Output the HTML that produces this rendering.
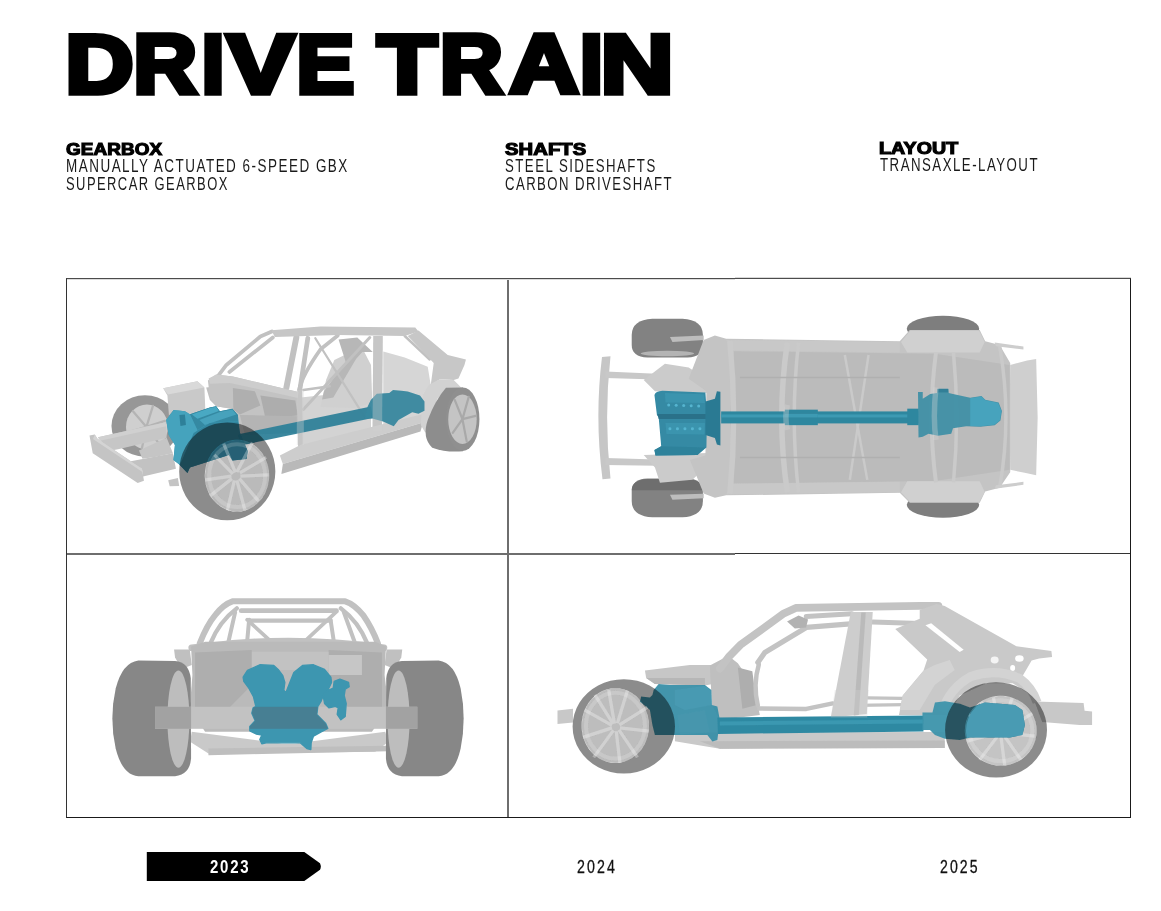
<!DOCTYPE html>
<html lang="en">
<head>
<meta charset="utf-8">
<title>Drive Train</title>
<style>
html,body{margin:0;padding:0;background:#fff;}
body{width:1161px;height:911px;position:relative;overflow:hidden;font-family:"Liberation Sans",sans-serif;color:#000;}
.abs{position:absolute;}
.h{position:absolute;font-weight:bold;font-size:16.3px;line-height:16px;white-space:nowrap;transform-origin:0 0;-webkit-text-stroke:1.15px #000;letter-spacing:0.1px;}
.t{position:absolute;font-weight:normal;font-size:18px;line-height:18px;white-space:nowrap;transform-origin:0 0;color:#1a1a1a;}
.yr{position:absolute;font-size:19px;line-height:18px;white-space:nowrap;transform-origin:0 0;color:#111;}
#grid{position:absolute;left:66px;top:278px;width:1065px;height:540px;box-sizing:border-box;border:1px solid #1a1a1a;border-top-color:#4c4c4c;border-left-color:#333;}
#vline{position:absolute;left:507px;top:279px;width:2px;height:538px;background:#6e6e6e;}
#hline{position:absolute;left:67px;top:553px;width:668px;height:2px;background:#6e6e6e;}
#hline2{position:absolute;left:735px;top:553px;width:395px;height:1px;background:#333;}
#tl1{position:absolute;left:67px;top:279px;width:668px;height:1px;background:#dcdcdc;}
#tl2{position:absolute;left:735px;top:277px;width:396px;height:1px;background:#d8d8d8;}
svg{position:absolute;left:0;top:0;overflow:visible;}
</style>
</head>
<body>

<!-- TITLE -->
<svg id="title" width="1161" height="120" viewBox="0 0 1161 120" aria-label="DRIVE TRAIN">
<g font-family="Liberation Sans, sans-serif" font-weight="bold" font-size="83" fill="#000" stroke="#000" stroke-width="5.4" stroke-linejoin="miter">
<text transform="translate(68.5,93.2) scale(1.14,1)" x="-2.9">D</text>
<text transform="translate(136.3,93.2) scale(1.065,1)" x="-2.9">R</text>
<text transform="translate(204.4,93.2) scale(1.0,1)" x="-2.9">I</text>
<text transform="translate(223,93.2) scale(1.2225,1)" x="2.98">V</text>
<text transform="translate(299.4,93.2) scale(1.05,1)" x="-2.9">E</text>
<text transform="translate(375.2,93.2) scale(1.18,1)" x="1.8">T</text>
<text transform="translate(442.7,93.2) scale(1.055,1)" x="-2.9">R</text>
<text transform="translate(507.5,93.2) scale(1.161,1)" x="1.52">A</text>
<text transform="translate(582.7,93.2) scale(1.012,1)" x="-2.9">I</text>
<text transform="translate(604,93.2) scale(1.22,1)" x="-2.9">N</text>
</g>
</svg>

<!-- SPEC COLUMNS -->
<div class="h" id="h1" style="left:66px;top:141px;transform:scaleX(1.1585);">GEARBOX</div>
<div class="t" id="t1a" style="left:65.6px;top:157px;transform:scaleX(0.748);letter-spacing:2px;">MANUALLY ACTUATED 6-SPEED GBX</div>
<div class="t" id="t1b" style="left:65.7px;top:175px;transform:scaleX(0.72);letter-spacing:2px;">SUPERCAR GEARBOX</div>

<div class="h" id="h2" style="left:504.7px;top:141px;transform:scaleX(1.237);">SHAFTS</div>
<div class="t" id="t2a" style="left:504.5px;top:157px;transform:scaleX(0.735);letter-spacing:2px;">STEEL SIDESHAFTS</div>
<div class="t" id="t2b" style="left:504.8px;top:175px;transform:scaleX(0.73);letter-spacing:2px;">CARBON DRIVESHAFT</div>

<div class="h" id="h3" style="left:879.4px;top:140px;transform:scaleX(1.2);">LAYOUT</div>
<div class="t" id="t3a" style="left:880px;top:156px;transform:scaleX(0.737);letter-spacing:2px;">TRANSAXLE-LAYOUT</div>

<!-- GRID -->
<div id="grid"></div>
<div id="vline"></div>
<div id="hline"></div>
<div id="hline2"></div>
<div id="tl1"></div>
<div id="tl2"></div>

<!-- CARS -->
<svg id="cars" width="1161" height="911" viewBox="0 0 1161 911">
<defs><filter id="soft" x="-5%" y="-5%" width="110%" height="110%"><feGaussianBlur stdDeviation="2.8"/></filter><filter id="soft3" x="-5%" y="-5%" width="110%" height="110%"><feGaussianBlur stdDeviation="2.1"/></filter></defs>
<!--CAR1-->
<g id="car1" transform="translate(80,315) scale(0.24981)" filter="url(#soft)">
<!-- far front wheel -->
<ellipse cx="260" cy="444" rx="134" ry="123" fill="#979797"/>
<ellipse cx="268" cy="448" rx="84" ry="90" fill="#cfcfcf"/>
<g stroke="#b4b4b4" stroke-width="9" stroke-linecap="round">
<path d="M266 448 L212 385 M266 448 L292 364 M266 448 L192 470 M266 448 L340 424 M266 448 L248 532 M266 448 L320 520"/>
</g>
<!-- front frame -->
<path d="M72 489 L343 429 L347 491 L157 536 L115 544 Z" fill="#c6c6c6"/>
<path d="M72 489 L343 429 L344 445 L80 503 Z" fill="#d0d0d0"/>
<path d="M236 542 L347 491 L372 553 L300 568 L250 575 Z" fill="#c5c5c5"/>
<path d="M198 586 L372 553 L384 615 L252 646 L248 615 Z" fill="#c2c2c2"/>
<path d="M38 482 L59 478 L70 495 L248 615 L256 664 L231 673 L51 553 Z" fill="#c4c4c4"/>
<path d="M59 478 L70 495 L248 615 L250 628 L52 496 Z" fill="#d4d4d4"/>
<path d="M353 662 L392 652 L397 685 L359 686 Z" fill="#c4c4c4"/>
<!-- radiator box -->
<path d="M333 293 L470 265 L498 290 L502 388 L440 396 L376 380 L356 402 L350 322 Z" fill="#c9c9c9"/>
<path d="M333 293 L470 265 L498 290 L352 318 Z" fill="#d9d9d9"/>
<!-- strut / inner fender area -->
<path d="M505 290 L600 280 L612 376 L545 365 L520 340 Z" fill="#c0c0c0"/>
<!-- firewall / dash -->
<path d="M512 262 L545 238 L612 246 L874 308 L880 420 L905 470 L640 480 L612 376 L545 365 L520 330 Z" fill="#c3c3c3"/>
<path d="M612 292 L700 305 L722 362 L640 398 L614 378 Z" fill="#afafaf"/>
<path d="M722 322 L862 342 L872 402 L742 412 Z" fill="#adadad"/>
<path d="M640 400 L880 405 L880 470 L660 480 Z" fill="#b4b4b4"/>
<!-- floor seen through door -->
<path d="M884 330 L1165 300 L1165 470 L884 520 Z" fill="#d3d3d3"/>
<path d="M1214 146 L1300 170 L1392 207 L1404 280 L1373 315 L1373 414 L1214 461 Z" fill="#d6d6d6"/>
<!-- seat -->
<path d="M1018 180 L1080 150 L1136 144 L1165 200 L1170 351 L1100 372 L963 368 L985 260 Z" fill="#d0d0d0"/>
<path d="M1035 98 L1110 90 L1172 148 L1130 148 L1105 176 L1014 330 L969 338 L977 305 L1064 189 Z" fill="#b7b7b7"/>
<!-- cage tubes -->
<g fill="none" stroke="#c1c1c1" stroke-width="15" stroke-linecap="round" stroke-linejoin="round">
<path d="M556 240 L586 200 L722 86 L768 66"/>
<path d="M598 228 L772 90"/>
<path d="M866 90 L826 292" stroke-width="24"/>
<path d="M912 93 L880 300 L882 520" stroke-width="19"/>
<path d="M877 300 Q890 240 963 137 L1032 82"/>
<path d="M942 93 L1142 413" stroke-width="9"/>
<path d="M1160 90 L894 378" stroke-width="12"/>
<path d="M894 300 L1000 285" stroke-width="10"/>
<path d="M1193 84 L1190 466" stroke-width="38" stroke-linecap="butt"/>
<path d="M1300 84 L1400 178" stroke-width="10"/>
</g>
<path d="M515 254 L545 238 L612 246 L874 308 L872 332 L600 272 L520 275 Z" fill="#cdcdcd"/>
<!-- roof band -->
<path d="M766 61 L963 46 L1342 50 L1355 66 L1300 84 L1032 80 L780 88 Z" fill="#c6c6c6"/>
<!-- rear pillar -->
<path d="M1312 84 L1355 62 L1472 160 L1545 178 L1539 200 L1515 254 L1496 260 L1441 257 L1404 280 L1416 192 Z" fill="#c7c7c7"/>
<!-- side / sill -->
<path d="M882 520 L1373 396 L1373 430 L812 596 L800 562 Z" fill="#cdcdcd"/>
<path d="M812 596 L1373 430 L1363 466 L806 636 Z" fill="#b9b9b9"/>
<!-- rear fender -->
<path d="M1373 315 L1398 278 L1441 257 L1496 260 L1527 291 L1470 296 L1430 336 L1412 400 L1418 440 L1382 470 L1364 440 Z" fill="#d2d2d2"/>
<!-- rear wheel -->
<path d="M1465 291 Q1422 340 1392 420 Q1368 490 1410 531 Q1470 552 1533 545 L1533 290 Z" fill="#8d8d8d"/>
<ellipse cx="1532" cy="417" rx="67" ry="127" fill="#8f8f8f"/>
<ellipse cx="1531" cy="417" rx="57" ry="99" fill="#c4c4c4"/>
<g stroke="#a9a9a9" stroke-width="9" stroke-linecap="round">
<path d="M1531 417 L1500 340 M1531 417 L1556 328 M1531 417 L1584 404 M1531 417 L1548 506 M1531 417 L1492 472"/>
</g>
<!-- engine -->
<path d="M345 420 L375 380 L420 385 L440 397 L520 370 L545 365 L560 385 L610 375 L632 400 L640 470 L652 500 L672 545 L666 576 L610 582 L596 560 L440 610 L430 632 L395 596 L374 580 L380 520 L355 480 Z" fill="#3b96b0"/>
<path d="M440 397 L520 370 L545 365 L560 385 L610 375 L632 400 L632 425 L520 430 L470 460 Z" fill="#3489a2"/>
<path d="M345 420 L375 380 L420 385 L440 397 L470 460 L400 600 L374 580 L380 520 L355 480 Z" fill="#45a3bd"/>
<path d="M398 400 L420 398 L424 440 L402 444 Z" fill="#2f8099"/>
<path d="M448 398 L520 372 L545 367 L556 384 L470 415 Z" fill="#4aa9c3"/>
<path d="M478 420 L560 388 L610 378 L626 398 L500 440 Z" fill="#46a2bc"/>
<path d="M455 472 L520 432 L632 427 L640 470 L652 500 L672 545 L666 576 L610 582 L596 560 L440 610 L430 632 L400 600 Z" fill="#33869f"/>
<!-- driveshaft -->
<path d="M630 478 L1165 366 L1172 412 L645 522 Z" fill="#2f8199" fill-opacity="0.95"/>
<!-- gearbox -->
<path d="M1164 340 L1188 315 L1238 312 L1253 300 L1287 303 L1312 306 L1361 322 L1379 346 L1379 383 L1355 395 L1330 389 L1275 420 L1256 445 L1213 426 L1170 414 L1139 414 L1152 365 Z" fill="#37879e" fill-opacity="0.95"/>
<!-- overlays in front of drivetrain -->
<path d="M856 90 L875 90 L912 93 L882 520 L850 520 L818 290 Z" fill="#fff" fill-opacity="0.0"/>
<path d="M868 300 L896 300 L896 520 L868 520 Z" fill="#d0d0d0" fill-opacity="0.35"/>
<path d="M1174 84 L1212 84 L1209 466 L1171 466 Z" fill="#d0d0d0" fill-opacity="0.35"/>
<!-- near front wheel -->
<path d="M589 430 a192.500 196 0 1 0 1 0 Z M629 499 a129 144 0 1 1 -1 0 Z" fill="#000" fill-opacity="0.45" fill-rule="evenodd"/>
<ellipse cx="629" cy="643" rx="129" ry="144" fill="#000" fill-opacity="0.27"/>
<ellipse cx="629" cy="643" rx="112" ry="126" fill="none" stroke="#fff" stroke-opacity="0.16" stroke-width="16"/>
<g stroke="#fff" stroke-opacity="0.3" stroke-width="13" stroke-linecap="butt">
<path d="M612 636 L538 560 M622 630 L575 515 M628 628 L690 510 M640 632 L745 570 M642 645 L755 640 M638 655 L715 745 M628 662 L660 780 M618 662 L590 782 M608 655 L520 725 M606 645 L503 660"/>
</g>
</g>
<!--/CAR1-->
<!--CAR2-->
<g id="car2" transform="translate(590,305) scale(0.24981)" filter="url(#soft)">
<!-- front wheels -->
<path d="M250 55 H370 Q452 60 452 120 V160 Q452 208 390 210 H230 Q167 208 167 160 V120 Q167 60 250 55 Z" fill="#828282"/>
<ellipse cx="310" cy="194" rx="107" ry="11" fill="#b4b4b4"/>
<path d="M230 695 H390 Q452 698 452 745 V785 Q452 845 370 850 H250 Q167 845 167 785 V745 Q167 698 230 695 Z" fill="#828282"/>
<path d="M230 697 H390 Q450 700 452 742 H167 Q168 700 230 697 Z" fill="#6e6e6e"/>
<!-- rear wheels -->
<ellipse cx="1413" cy="95" rx="145" ry="52" fill="#7e7e7e"/>
<ellipse cx="1413" cy="800" rx="145" ry="52" fill="#7e7e7e"/>
<!-- bumper beam and rails -->
<path d="M48 208 L82 205 Q55 450 82 695 L50 698 Q18 450 48 208 Z" fill="#c6c6c6"/>
<path d="M62 266 L335 278 L335 300 L62 292 Z" fill="#c8c8c8"/>
<path d="M62 612 L335 620 L335 644 L62 640 Z" fill="#c8c8c8"/>
<path d="M320 128 L455 122 L455 140 L330 148 Z" fill="#bdbdbd"/>
<path d="M320 760 L455 756 L455 774 L330 780 Z" fill="#bdbdbd"/>
<!-- front suspension clutter -->
<path d="M215 300 L300 235 L395 250 L472 300 L472 352 L260 345 Z" fill="#cbcbcb"/>
<path d="M215 600 L472 592 L472 640 L410 700 L280 712 L260 650 Z" fill="#cbcbcb"/>
<!-- body -->
<path d="M455 140 L500 122 L545 135 L1240 145 L1280 100 L1560 100 L1582 145 L1640 160 L1682 232 L1690 450 L1682 670 L1640 732 L1582 747 L1560 792 L1280 792 L1240 752 L545 762 L500 772 L455 755 L400 620 L462 602 L466 345 L395 295 Z" fill="#c4c4c4"/>
<!-- inner cabin slightly darker -->
<path d="M575 185 L1380 195 L1680 240 L1680 660 L1380 705 L575 715 L560 450 Z" fill="#bbbbbb"/>
<!-- lighter rim bands (sills/roof rails) -->
<path d="M545 140 L1240 148 L1240 190 L575 182 Z" fill="#c8c8c8"/>
<path d="M545 758 L1240 750 L1240 708 L575 716 Z" fill="#c8c8c8"/>
<!-- rear fenders highlight -->
<path d="M1245 148 L1282 103 L1558 103 L1580 148 L1560 190 L1270 190 Z" fill="#d0d0d0"/>
<path d="M1245 750 L1282 790 L1558 790 L1580 748 L1560 706 L1270 706 Z" fill="#d0d0d0"/>
<!-- cross members -->
<g fill="none" stroke="#cacaca" stroke-width="22">
<path d="M560 145 Q590 450 560 755"/>
<path d="M790 150 Q745 450 790 750"/>
<path d="M835 150 Q800 450 835 750" stroke-width="14"/>
<path d="M1115 200 L1040 700" stroke-width="10"/>
<path d="M1020 200 L1110 700" stroke-width="10"/>
<path d="M1385 190 Q1350 450 1385 710" stroke-width="16"/>
<path d="M1455 190 Q1480 450 1455 710" stroke-width="14"/>
<path d="M1640 165 Q1690 450 1640 730" stroke-width="14"/>
</g>
<g fill="none" stroke="#b0b0b0" stroke-width="6">
<path d="M600 290 L1240 290 M600 610 L1240 610"/>
</g>
<!-- rear wing -->
<path d="M1682 240 L1750 222 L1786 216 L1792 450 L1786 682 L1740 672 L1682 660 Z" fill="#cfcfcf"/>
<path d="M1620 150 L1735 166 L1735 178 L1625 165 Z" fill="#cdcdcd"/>
<path d="M1620 736 L1735 720 L1735 708 L1625 722 Z" fill="#cdcdcd"/>
<!-- engine -->
<path d="M258 360 Q262 345 290 343 L462 350 L468 440 L468 450 L466 570 L430 600 L262 602 L258 580 L285 565 L275 450 L268 440 Z" fill="#348aa4"/>
<path d="M270 436 L466 436 L466 456 L275 456 Z" fill="#2a7189"/>
<path d="M300 352 L455 357 L460 392 L302 390 Z" fill="#3b94ae"/>
<path d="M302 472 L460 472 L458 518 L306 516 Z" fill="#3b94ae"/>
<g fill="#55b4cf"><circle cx="315" cy="400" r="6"/><circle cx="345" cy="401" r="6"/><circle cx="375" cy="402" r="6"/><circle cx="405" cy="403" r="6"/><circle cx="435" cy="404" r="6"/><circle cx="320" cy="495" r="6"/><circle cx="350" cy="495" r="6"/><circle cx="380" cy="495" r="6"/><circle cx="410" cy="495" r="6"/><circle cx="440" cy="495" r="6"/></g>
<path d="M258 580 L285 565 L462 570 L430 600 L262 602 Z" fill="#2f829b"/>
<!-- bellhousing -->
<path d="M462 386 L500 375 L508 345 L522 347 L522 562 L508 558 L500 532 L462 520 Z" fill="#2c7a93"/>
<!-- driveshaft -->
<rect x="525" y="426" width="790" height="48" fill="#2f879f"/>
<rect x="525" y="438" width="790" height="12" fill="#3c9ab3"/>
<rect x="780" y="419" width="132" height="62" fill="#2f879f"/>
<rect x="780" y="436" width="132" height="14" fill="#3c9ab3"/>
<rect x="1270" y="415" width="46" height="66" fill="#2f879f"/>
<!-- gearbox -->
<path d="M1313 348 L1332 348 L1332 375 L1362 356 L1389 352 L1391 335 L1434 335 L1436 352 L1453 356 L1522 371 L1567 364 L1582 379 L1636 390 L1649 424 L1643 462 L1620 481 L1563 487 L1506 485 L1453 493 L1446 515 L1393 523 L1355 515 L1332 527 L1315 530 Z" fill="#3d8fa6" fill-opacity="0.93"/>
<path d="M1522 373 L1567 366 L1582 381 L1634 392 L1647 424 L1641 461 L1619 479 L1563 485 L1522 484 Z" fill="#46a5c0" fill-opacity="0.9"/>
<path d="M1391 336 L1434 336 L1434 350 L1391 350 Z" fill="#337f97"/>
<!-- cabin members over shaft (transparent) -->
<g fill="none" stroke="#d8d8d8" stroke-opacity="0.35" stroke-width="22">
<path d="M790 400 Q778 450 790 500"/>
<path d="M1385 330 Q1372 450 1385 540"/>
</g>
</g>
<!--/CAR2-->
<!--CAR3-->
<g id="car3" transform="translate(95,575) scale(0.33362)" filter="url(#soft3)">
<defs><clipPath id="c3eng"><path d="M444 306 L457 286 L494 269 L536 271 L549 283 L563 302 L569 322 L566 345 L572 353 L587 315 L596 292 L622 271 L655 269 L688 283 L707 306 L709 322 L698 345 L684 362 L678 378 L668 394 L665 418 L691 444 L698 460 L678 470 L655 483 L648 503 L647 523 L635 520 L615 503 L513 503 L500 506 L494 493 L500 480 L484 477 L464 467 L464 454 L480 437 L470 414 L474 398 L482 394 L475 365 L461 339 L446 319 Z"/></clipPath></defs>
<!-- cage -->
<g fill="none" stroke="#c1c1c1" stroke-width="18" stroke-linejoin="round" stroke-linecap="round">
<path d="M314 205 Q335 150 362 118 Q386 88 412 79 L750 79 Q778 88 805 122 Q830 158 848 205"/>
<path d="M346 205 Q372 140 425 100 M816 205 Q790 140 737 100" stroke-width="13"/>
<path d="M438 107 L724 107" stroke-width="14"/>
<path d="M462 137 L706 137" stroke-width="13"/>
<path d="M456 134 L605 270 M724 110 L545 277" stroke-width="11"/>
<path d="M420 112 L400 200 M462 134 L456 200 M706 134 L716 200 M746 112 L778 200" stroke-width="12"/>
<path d="M290 218 Q581 178 866 218" stroke-width="20"/>
</g>
<!-- upper body -->
<path d="M288 214 L330 200 L840 200 L872 214 L868 300 L880 400 L830 470 L330 470 L284 400 L292 300 Z" fill="#bababa"/>
<path d="M300 232 L470 225 L470 330 L400 400 L300 400 Z" fill="#aeaeae"/>
<path d="M860 232 L700 225 L700 300 L760 400 L860 400 Z" fill="#aeaeae"/>
<path d="M470 230 L700 230 L700 285 L470 285 Z" fill="#c2c2c2"/>
<path d="M700 240 L800 240 L800 300 L700 300 Z" fill="#c6c6c6"/>
<!-- mirrors/brackets -->
<path d="M237 223 L284 223 L290 270 L260 282 L240 247 Z" fill="#c0c0c0"/>
<path d="M921 223 L874 223 L868 270 L898 282 L918 247 Z" fill="#c0c0c0"/>
<!-- lower suspension -->
<path d="M290 470 L560 505 L600 505 L870 470 L880 500 L840 530 L340 535 L285 500 Z" fill="#c9c9c9"/>
<path d="M340 520 L880 512 L880 528 L340 540 Z" fill="#bebebe"/>
<!-- tyres -->
<path d="M130 256 L240 258 Q282 262 287 310 L288 550 Q284 598 240 603 L130 603 Q82 600 62 520 Q42 430 62 340 Q82 262 130 256 Z" fill="#878787"/>
<ellipse cx="250" cy="432" rx="33" ry="146" fill="#bdbdbd"/>
<path d="M1030 256 L920 258 Q878 262 873 310 L872 550 Q876 598 920 603 L1030 603 Q1078 600 1096 520 Q1114 430 1096 340 Q1078 262 1030 256 Z" fill="#878787"/>
<ellipse cx="910" cy="432" rx="33" ry="146" fill="#bdbdbd"/>
<!-- beam -->
<rect x="180" y="395" width="786" height="66" fill="#c2c2c2"/>
<rect x="180" y="395" width="108" height="66" fill="#a2a2a2"/>
<rect x="872" y="395" width="94" height="66" fill="#a2a2a2"/>
<!-- engine -->
<path d="M444 306 L457 286 L494 269 L536 271 L549 283 L563 302 L569 322 L566 345 L572 353 L587 315 L596 292 L622 271 L655 269 L688 283 L707 306 L709 322 L698 345 L684 362 L678 378 L668 394 L665 418 L691 444 L698 460 L678 470 L655 483 L648 503 L647 523 L635 520 L615 503 L513 503 L500 506 L494 493 L500 480 L484 477 L464 467 L464 454 L480 437 L470 414 L474 398 L482 394 L475 365 L461 339 L446 319 Z" fill="#3d96b0" stroke="#3d96b0" stroke-width="4" stroke-linejoin="round"/>
<rect x="180" y="395" width="786" height="66" fill="#477f93" clip-path="url(#c3eng)"/>
<path d="M684 362 L694 348 L714 339 L717 319 L734 312 L760 322 L762 335 L750 342 L747 362 L753 385 L750 424 L737 434 L726 418 L729 398 L721 394 L701 398 L688 385 Z" fill="#3d96b0" stroke="#3d96b0" stroke-width="4" stroke-linejoin="round"/>
</g>
<!--/CAR3-->
<!--CAR4-->
<g id="car4" transform="translate(545,585) scale(0.24981)" filter="url(#soft)">
<!-- front bumper stub -->
<path d="M50 502 L112 495 L112 550 L50 556 Z" fill="#c8c8c8"/>
<!-- hood / cowl -->
<path d="M400 342 L580 320 L680 320 L702 345 L692 392 L640 402 L440 396 L405 372 Z" fill="#c6c6c6"/>
<path d="M405 372 L640 372 L640 402 L440 396 Z" fill="#b6b6b6"/>
<!-- firewall / hinge pillar -->
<path d="M660 322 L734 283 L772 313 L803 358 L830 400 L852 480 L860 520 L700 540 L668 480 L665 420 Z" fill="#bfbfbf"/>
<path d="M772 330 L830 345 L848 480 L790 495 Z" fill="#aeaeae"/>
<!-- floor / sill -->
<path d="M520 590 L1600 588 L1600 652 L700 655 L520 625 Z" fill="#c9c9c9"/>
<path d="M620 625 L1600 622 L1600 652 L700 655 Z" fill="#bcbcbc"/>
<!-- cage tubes -->
<g fill="none" stroke="#c3c3c3" stroke-width="25" stroke-linecap="round" stroke-linejoin="round">
<path d="M700 335 L738 285 L782 240 L956 114 L1004 92 L1502 84 L1575 84" stroke-width="31"/>
<path d="M852 310 L880 270 L1046 170 L1222 156" stroke-width="21"/>
<path d="M1046 126 L1228 115 M1312 148 L1500 154" stroke-width="20"/>
<path d="M852 482 Q832 400 856 318" stroke-width="18"/>
<path d="M858 494 L1046 496 L1152 474" stroke-width="18"/>
<path d="M1290 452 L1500 455 M1252 482 L1500 478" stroke-width="13"/>
</g>
<path d="M969 146 L1015 122 L1053 138 L1045 170 L1000 174 Z" fill="#b2b2b2"/>
<!-- B pillar -->
<path d="M1224 108 L1312 108 L1288 516 L1144 530 Z" fill="#cdcdcd"/>
<path d="M1266 110 L1284 110 L1256 520 L1236 522 Z" fill="#bababa"/>
<!-- rear quarter -->
<path d="M1402 176 L1500 135 L1500 100 L1568 76 L1600 84 L1887 245 L2027 264 L2030 288 L1978 294 L1948 302 L1906 374 L1948 419 L1971 465 L1990 520 L1948 442 L1872 393 L1766 393 L1660 442 L1615 520 L1417 520 L1432 442 L1515 343 L1530 298 Z" fill="#c9c9c9"/>
<path d="M1523 161 L1546 153 L1676 259 L1660 268 Z" fill="#fff"/>
<path d="M1432 442 L1515 343 L1560 320 L1620 300 L1640 340 L1560 400 L1500 500 L1420 500 Z" fill="#d3d3d3"/>
<ellipse cx="1899" cy="294" rx="17" ry="13" fill="#fff"/>
<ellipse cx="1872" cy="332" rx="10" ry="12" fill="#fff"/>
<ellipse cx="1800" cy="300" rx="16" ry="14" fill="#f4f4f4"/>
<!-- rear frame extension -->
<path d="M1960 466 L2156 472 L2160 503 L2190 506 L2190 560 L2140 560 L1990 548 Z" fill="#c8c8c8"/>
<path d="M1590 505 Q1622 410 1705 366 Q1805 332 1900 374 Q1950 410 1970 470" fill="none" stroke="#d3d3d3" stroke-width="36"/>
<!-- teal drivetrain -->
<path d="M435 420 L455 396 L500 400 L640 400 L666 420 L668 480 L690 486 L700 540 L690 620 L670 626 L650 600 L440 600 L430 560 L420 500 L380 466 L385 446 L420 450 L430 440 Z" fill="#3a8fa8" fill-opacity="0.95"/>
<path d="M520 420 L640 404 L664 422 L666 480 L560 500 L520 480 Z" fill="#4a9db5" fill-opacity="0.7"/>
<path d="M530 520 L640 500 L660 590 L540 598 Z" fill="#4797af" fill-opacity="0.6"/>
<path d="M690 530 L1515 522 L1515 586 L692 596 Z" fill="#2f89a2"/>
<path d="M700 546 L1515 538 L1515 554 L700 562 Z" fill="#3a98b1"/>
<path d="M1561 470 L1601 465 L1661 475 L1701 490 L1761 470 L1881 480 L1911 500 L1921 560 L1911 600 L1861 610 L1701 610 L1661 620 L1601 615 L1561 600 L1541 580 L1511 580 L1511 510 L1551 510 Z" fill="#3d93ab" fill-opacity="0.95"/>
<!-- overlays in front of drivetrain -->
<path d="M1144 530 L1160 420 L1296 420 L1290 530 Z" fill="#d0d0d0" fill-opacity="0.3"/>
<!-- front wheel -->
<path d="M315 377 a205 189 0 1 0 1 0 Z M282 413 a135 150 0 1 1 -1 0 Z" fill="#000" fill-opacity="0.45" fill-rule="evenodd"/>
<ellipse cx="282" cy="563" rx="135" ry="150" fill="#000" fill-opacity="0.26"/>
<ellipse cx="282" cy="563" rx="118" ry="132" fill="none" stroke="#fff" stroke-opacity="0.16" stroke-width="16"/>
<g stroke="#fff" stroke-opacity="0.3" stroke-width="13">
<path d="M278 555 L255 420 M290 553 L330 422 M298 560 L410 490 M300 572 L415 585 M296 580 L370 690 M285 585 L300 712 M274 582 L195 690 M268 572 L152 610 M268 562 L158 500 M272 555 L200 440"/>
</g>
<!-- rear wheel -->
<path d="M1805 389 a204 191 0 1 0 1 0 Z M1825 443 a144 140 0 1 1 -1 0 Z" fill="#000" fill-opacity="0.45" fill-rule="evenodd"/>
<ellipse cx="1825" cy="583" rx="144" ry="140" fill="#000" fill-opacity="0.23"/>
<ellipse cx="1825" cy="583" rx="126" ry="122" fill="none" stroke="#fff" stroke-opacity="0.16" stroke-width="16"/>
<g stroke="#fff" stroke-opacity="0.3" stroke-width="13">
<path d="M1818 575 L1795 450 M1830 573 L1870 452 M1838 580 L1950 515 M1840 592 L1960 605 M1836 600 L1905 700 M1825 605 L1840 720 M1814 602 L1740 700 M1808 592 L1690 625 M1808 582 L1698 520 M1812 575 L1745 468"/>
</g>
<!-- fender arch over rear wheel top -->
<clipPath id="c4rim"><ellipse cx="1825" cy="583" rx="140" ry="136"/></clipPath>
<path d="M1561 470 L1601 465 L1661 475 L1701 490 L1761 470 L1881 480 L1911 500 L1921 560 L1911 600 L1861 610 L1701 610 L1661 620 L1601 615 L1561 600 L1541 580 L1511 580 L1511 510 L1551 510 Z" fill="#4a9bb3" clip-path="url(#c4rim)"/>
</g>
<!--/CAR4-->
</svg>

<!-- TIMELINE -->
<svg id="arrow" width="1161" height="911" viewBox="0 0 1161 911">
<path d="M146.8 852 H304.3 L320 863.2 Q321.6 866.5 320 869.8 L304.3 881 H146.8 Z" fill="#000"/>
</svg>
<div class="yr" id="y1" style="left:210px;top:858px;color:#fff;font-weight:bold;transform:scaleX(0.789);letter-spacing:2.2px;">2023</div>
<div class="yr" id="y2" style="left:577px;top:858px;transform:scaleX(0.747);letter-spacing:2.8px;-webkit-text-stroke:0.3px #111;">2024</div>
<div class="yr" id="y3" style="left:940px;top:858px;transform:scaleX(0.742);letter-spacing:2.8px;-webkit-text-stroke:0.3px #111;">2025</div>

</body>
</html>
